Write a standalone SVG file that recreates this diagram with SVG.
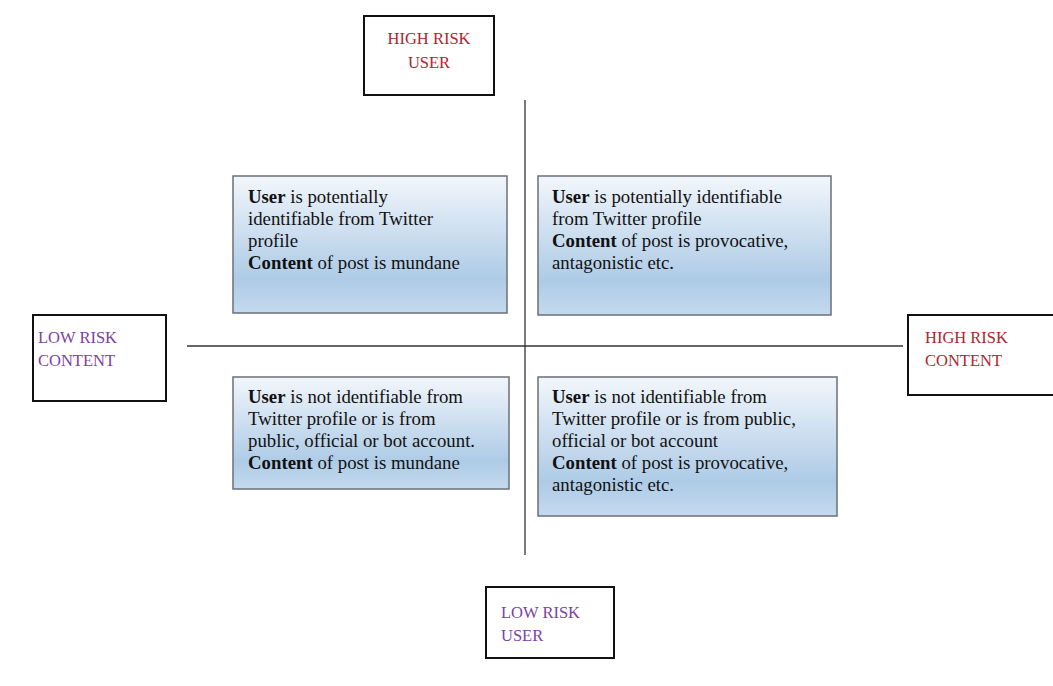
<svg xmlns="http://www.w3.org/2000/svg" width="1053" height="686" viewBox="0 0 1053 686">
<style>
text{font-family:"Liberation Serif","Times New Roman",serif;font-size:18.8px;fill:#111}
.lbl{font-size:16.5px}
.red{fill:#b3242c}
.pur{fill:#7a43a6}
.ax{fill:#fff;stroke:#111;stroke-width:2}
.q{fill:url(#g);stroke:#6b7078;stroke-width:1.5}
.ln{stroke:#333;stroke-width:1.3}
.b{font-weight:bold}
</style>
<defs>
<linearGradient id="g" x1="0" y1="0" x2="0" y2="1">
<stop offset="0" stop-color="#f2f6fb"/>
<stop offset="0.75" stop-color="#aecbe6"/>
<stop offset="1" stop-color="#c4daee"/>
</linearGradient>
</defs>
<g id="connectors">
<line class="ln" x1="525" y1="100" x2="525" y2="555"/>
<line class="ln" x1="187" y1="346" x2="903" y2="346"/>
</g>
<g id="high-user"><rect class="ax" x="364" y="16" width="130" height="79"/>
<text class="lbl red" text-anchor="middle"><tspan x="429" y="44">HIGH RISK</tspan><tspan x="429" y="68">USER</tspan></text></g>
<g id="low-content"><rect class="ax" x="33" y="315" width="133" height="86"/>
<text class="lbl pur"><tspan x="38" y="343">LOW RISK</tspan><tspan x="38" y="366">CONTENT</tspan></text></g>
<g id="high-content"><rect class="ax" x="908" y="315" width="150" height="80"/>
<text class="lbl red"><tspan x="925" y="343">HIGH RISK</tspan><tspan x="925" y="366">CONTENT</tspan></text></g>
<g id="low-user"><rect class="ax" x="486" y="587" width="128" height="71"/>
<text class="lbl pur"><tspan x="501" y="618">LOW RISK</tspan><tspan x="501" y="641">USER</tspan></text></g>
<g id="q-tl"><rect class="q" x="233" y="176" width="274" height="137"/>
<text><tspan x="248" y="203"><tspan class="b">User</tspan> is potentially</tspan><tspan x="248" y="225">identifiable from Twitter</tspan><tspan x="248" y="247">profile</tspan><tspan x="248" y="269"><tspan class="b">Content</tspan> of post is mundane</tspan></text></g>
<g id="q-tr"><rect class="q" x="538" y="176" width="293" height="139"/>
<text><tspan x="552" y="203"><tspan class="b">User</tspan> is potentially identifiable</tspan><tspan x="552" y="225">from Twitter profile</tspan><tspan x="552" y="247"><tspan class="b">Content</tspan> of post is provocative,</tspan><tspan x="552" y="269">antagonistic etc.</tspan></text></g>
<g id="q-bl"><rect class="q" x="233" y="377" width="276" height="112"/>
<text><tspan x="248" y="403"><tspan class="b">User</tspan> is not identifiable from</tspan><tspan x="248" y="425">Twitter profile or is from</tspan><tspan x="248" y="447">public, official or bot account.</tspan><tspan x="248" y="469"><tspan class="b">Content</tspan> of post is mundane</tspan></text></g>
<g id="q-br"><rect class="q" x="538" y="377" width="299" height="139"/>
<text><tspan x="552" y="403"><tspan class="b">User</tspan> is not identifiable from</tspan><tspan x="552" y="425">Twitter profile or is from public,</tspan><tspan x="552" y="447">official or bot account</tspan><tspan x="552" y="469"><tspan class="b">Content</tspan> of post is provocative,</tspan><tspan x="552" y="491">antagonistic etc.</tspan></text></g>
</svg>
